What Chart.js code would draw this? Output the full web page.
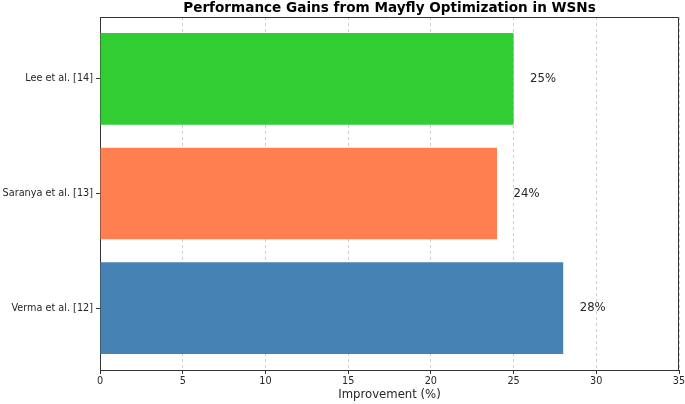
<!DOCTYPE html>
<html>
<head>
<meta charset="utf-8">
<script src="https://cdn.jsdelivr.net/npm/chart.js@4"></script>
<style>
  html, body { margin: 0; padding: 0; background: #fff; }
  #wrap { width: 685px; height: 404px; }
</style>
</head>
<body>
<div id="wrap"><canvas id="chart" width="685" height="404"></canvas></div>
<script>
// data, bottom to top as in the original plot
const studies = ['Verma et al. [12]', 'Saranya et al. [13]', 'Lee et al. [14]'];
const improvements = [28, 24, 25];
const barColors = ['#4682B4', '#FF7F50', '#32CD32'];
const xTicks = [0, 5, 10, 15, 20, 25, 30, 35];
const chartTitle = 'Performance Gains from Mayfly Optimization in WSNs';

const FONT = 'DejaVu Sans';
const TEXT = '#262626';

// title over the plot area, top/right frame, and the % labels next to the bars
const extras = {
    id: 'extras',
    afterDatasetsDraw(chart) {
        const ctx = chart.ctx;
        const a = chart.chartArea;
        const xs = chart.scales.x, ys = chart.scales.y;
        ctx.save();
        ctx.strokeStyle = '#333';
        ctx.lineWidth = 1;
        ctx.beginPath();
        ctx.moveTo(a.left, a.top + 0.5);
        ctx.lineTo(a.right - 0.5, a.top + 0.5);
        ctx.lineTo(a.right - 0.5, a.bottom);
        ctx.stroke();

        ctx.fillStyle = '#000';
        ctx.font = 'bold 13.6px "' + FONT + '"';
        ctx.textAlign = 'center';
        ctx.textBaseline = 'middle';
        ctx.fillText(chartTitle, (a.left + a.right) / 2, 8);

        ctx.fillStyle = TEXT;
        ctx.font = '11.7px "' + FONT + '"';
        ctx.textAlign = 'left';
        improvements.forEach((v, i) => {
            ctx.fillText(v + '%', xs.getPixelForValue(v + 1), ys.getPixelForValue(i));
        });
        ctx.restore();
    }
};

new Chart(document.getElementById('chart'), {
    type: 'bar',
    data: {
        datasets: [{
            data: improvements.map((v, i) => ({ x: v, y: i })),
            backgroundColor: barColors,
            borderWidth: 0,
            barPercentage: 0.8,
            categoryPercentage: 1.0
        }]
    },
    options: {
        indexAxis: 'y',
        responsive: false,
        animation: false,
        layout: { padding: { left: 0, right: 6, top: 17, bottom: 0 } },
        plugins: {
            legend: { display: false },
            tooltip: { enabled: false },
            title: { display: false }
        },
        scales: {
            x: {
                type: 'linear',
                min: 0,
                max: 35,
                afterBuildTicks: s => { s.ticks = xTicks.map(v => ({ value: v })); },
                afterFit: s => { s.height = 34; s.paddingRight = 0; s.paddingLeft = 0; },
                ticks: {
                    color: TEXT,
                    font: { family: FONT, size: 9.7 },
                    padding: 2,
                    maxRotation: 0
                },
                grid: {
                    color: '#cfcfcf',
                    tickColor: '#333',
                    tickLength: 4,
                    tickBorderDash: []
                },
                border: { display: true, color: '#333', width: 1, dash: [3, 3] },
                title: {
                    display: true,
                    text: 'Improvement (%)',
                    color: TEXT,
                    font: { family: FONT, size: 11.7 },
                    padding: { top: 1, bottom: 2 }
                }
            },
            y: {
                type: 'linear',
                min: -0.54,
                max: 2.54,
                offset: false,
                afterBuildTicks: s => { s.ticks = studies.map((_, i) => ({ value: i })); },
                afterFit: s => { s.width = 100; },
                ticks: {
                    color: TEXT,
                    font: { family: FONT, size: 9.7 },
                    padding: 3,
                    callback: v => studies[v]
                },
                grid: {
                    offset: false,
                    drawOnChartArea: false,
                    tickColor: '#333',
                    tickLength: 4
                },
                border: { display: true, color: '#333', width: 1 }
            }
        }
    },
    plugins: [extras]
});
</script>
</body>
</html>
